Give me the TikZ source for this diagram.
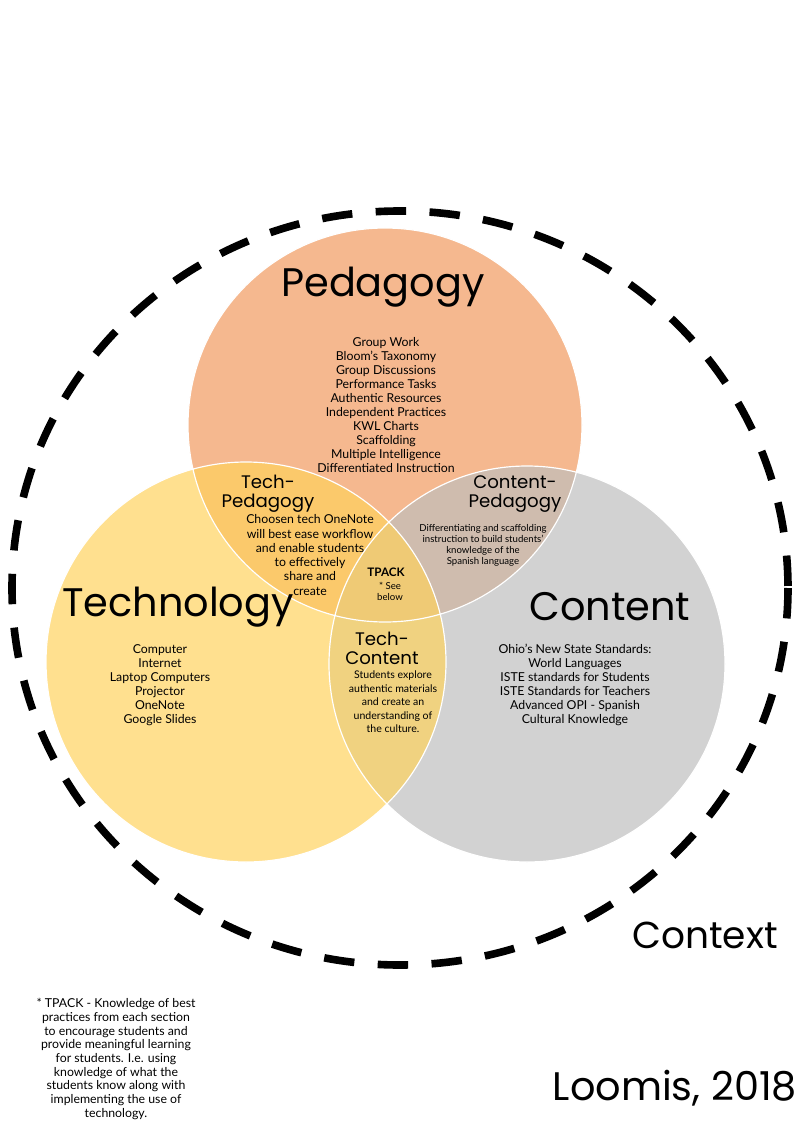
\documentclass[tikz,border=0pt]{standalone}
\usepackage{fontspec}
\setmainfont{Lato}
\newfontfamily\ttl{Poppins}
\definecolor{pedc}{RGB}{244,177,131}
\definecolor{techc}{RGB}{255,210,90}
\definecolor{conc}{RGB}{190,190,190}
\begin{document}
\begin{tikzpicture}[x=0.03cm,y=-0.03cm,
  circ/.style={fill opacity=0.68},
  big/.style={font=\ttl\fontsize{34}{38}\selectfont},
  mid/.style={font=\ttl\fontsize{15.5}{16}\selectfont,align=center},
  body/.style={font=\fontsize{10.5}{12}\selectfont,align=center},
  small/.style={font=\fontsize{8.2}{9.3}\selectfont,align=center}]
\useasboundingbox (0,0) rectangle (800,1131);
\fill[white] (0,0) rectangle (800,1131);
\draw[line width=6.5pt,dash pattern=on 26pt off 20pt] (400,588) ellipse [x radius=388,y radius=377];
\fill[circ,fill=pedc,fill opacity=0.9] (385,425) circle [radius=197];
\fill[circ,fill=conc] (527,664) circle [radius=198];
\fill[circ,fill=techc] (246,662) circle [radius=200];
\draw[white,line width=1pt] (385,425) circle [radius=197] (246,662) circle [radius=200] (527,664) circle [radius=198];
\node[big] (ped) at (383,287) {Pedagogy};
\node[big] (tech) at (178,607) {Technology};
\node[big] (con) at (610,607) {Content};
\node[font=\ttl\fontsize{32}{34}\selectfont] (ctx) at (705,935) {Context};
\node[font=\ttl\fontsize{34}{36}\selectfont] (auth) at (675,1088) {Loomis, 2018};
\node[body] (pedl) at (386,405) {Group Work\\Bloom's Taxonomy\\Group Discussions\\Performance Tasks\\Authentic Resources\\Independent Practices\\KWL Charts\\Scaffolding\\Multiple Intelligence\\Differentiated Instruction};
\node[body] (techl) at (160,685) {Computer\\Internet\\Laptop Computers\\Projector\\OneNote\\Google Slides};
\node[body] (conl) at (575,685) {Ohio's New State Standards:\\World Languages\\ISTE standards for Students\\ISTE Standards for Teachers\\Advanced OPI - Spanish\\Cultural Knowledge};
\node[mid] (tp) at (268,494) {Tech-\\Pedagogy};
\node[font=\fontsize{10.5}{12.2}\selectfont,align=center] (tpl) at (310,555) {Choosen tech OneNote\\will best ease workflow\\and enable students\\to effectively\\share and\\create};
\node[mid] (cp) at (515,494) {Content-\\Pedagogy};
\node[small] (cpl) at (483,545) {Differentiating and scaffolding\\instruction to build students'\\knowledge of the\\Spanish language};
\node[font=\bfseries\fontsize{10}{11}\selectfont] (tpk) at (386,572) {TPACK};
\node[small] (tpkl) at (390,591) {* See\\below};
\node[mid] (tc) at (382,648) {Tech-\\Content};
\node[small,font=\fontsize{9}{11.5}\selectfont] (tcl) at (393,702) {Students explore\\authentic materials\\and create an\\understanding of\\the culture.};
\node[font=\fontsize{10.5}{11.7}\selectfont,align=center] (foot) at (116,1059) {* TPACK - Knowledge of best\\practices from each section\\to encourage students and\\provide meaningful learning\\for students.  I.e. using\\knowledge of what the\\students know along with\\implementing the use of\\technology.};
\end{tikzpicture}
\end{document}
